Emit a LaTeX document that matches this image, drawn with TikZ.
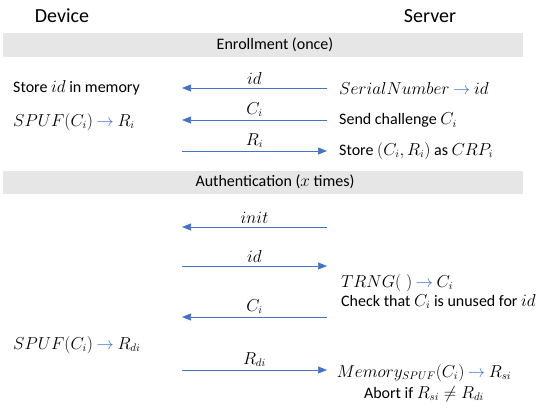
\documentclass[tikz,border=0pt]{standalone}
\usepackage{amsmath,amssymb}
\usepackage{fontspec}
\setmainfont{Carlito}
\usepackage{xcolor}
\usepackage{tikz}
\usetikzlibrary{positioning,arrows.meta}

\definecolor{msgblue}{RGB}{68,114,196}
\definecolor{bandgray}{RGB}{230,230,230}
\newcommand{\tto}{\textcolor{msgblue}{$\rightarrow$}}

\begin{document}
\begin{tikzpicture}
                    [
                        x=1pt, y=-1pt,
                        every node/.style={inner sep=1pt, font=\fontsize{16}{19}\selectfont},
                        head/.style={font=\fontsize{20}{24}\selectfont},
                        band/.style={fill=bandgray, draw=none},
                        msg/.style={draw=msgblue, line width=.7pt, -{Triangle[length=9pt,width=7pt]}},
                        lbl/.style={above=2pt, midway},
                        dev/.style={anchor=west},
                        srv/.style={anchor=west}
                    ]

                    % Rahmen
                    \useasboundingbox (0,0) rectangle (550,410);

                    % Kopf
                    \node[head] (device) at (62,16) {Device};
                    \node[head] (server) at (430,16) {Server};

                    % Enrollment
                    \fill[band] (3,33) rectangle (523,57);
                    \node (enroll) at (275,45) {Enrollment (once)};

                    \coordinate (d1) at (182,88);  \coordinate (s1) at (327,88);
                    \coordinate (d2) at (182,120); \coordinate (s2) at (327,120);
                    \coordinate (d3) at (182,151); \coordinate (s3) at (327,151);

                    \draw[msg] (s1) -- (d1) node[lbl] (m1) {$id$};
                    \draw[msg] (s2) -- (d2) node[lbl] (m2) {$C_i$};
                    \draw[msg] (d3) -- (s3) node[lbl] (m3) {$R_i$};

                    \node[dev] (store) at (12,88) {Store $id$ in memory};
                    \node[dev] (spuf1) at (12,122) {$SPUF(C_i)$ \tto{} $R_i$};
                    \node[srv] (serial) at (338,88) {$SerialNumber$ \tto{} $id$};
                    \node[srv] (send) at (338,120) {Send challenge $C_i$};
                    \node[srv] (crp) at (338,151) {Store $(C_i, R_i)$ as $CRP_i$};

                    % Authentication
                    \fill[band] (3,171) rectangle (523,194);
                    \node (auth) at (275,182) {Authentication ($x$ times)};

                    \coordinate (d4) at (182,227); \coordinate (s4) at (327,227);
                    \coordinate (d5) at (182,266); \coordinate (s5) at (327,266);
                    \coordinate (d6) at (182,317); \coordinate (s6) at (327,317);
                    \coordinate (d7) at (182,370); \coordinate (s7) at (327,370);

                    \draw[msg] (s4) -- (d4) node[lbl] (m4) {$init$};
                    \draw[msg] (d5) -- (s5) node[lbl] (m5) {$id$};
                    \draw[msg] (s6) -- (d6) node[lbl] (m6) {$C_i$};
                    \draw[msg] (d7) -- (s7) node[lbl] (m7) {$R_{di}$};

                    \node[srv, anchor=north west, align=left] (trng) at (340,273)
                        {$TRNG(\;)$ \tto{} $C_i$\\Check that $C_i$ is unused for $id$};
                    \node[dev] (spuf2) at (12,345) {$SPUF(C_i)$ \tto{}\ $R_{di}$};
                    \node[anchor=north, align=center] (mem) at (424,363)
                        {$Memory_{SPUF}(C_i)$ \tto{} $R_{si}$\\[2pt]Abort if $R_{si} \neq R_{di}$};
                \end{tikzpicture}
\end{document}
